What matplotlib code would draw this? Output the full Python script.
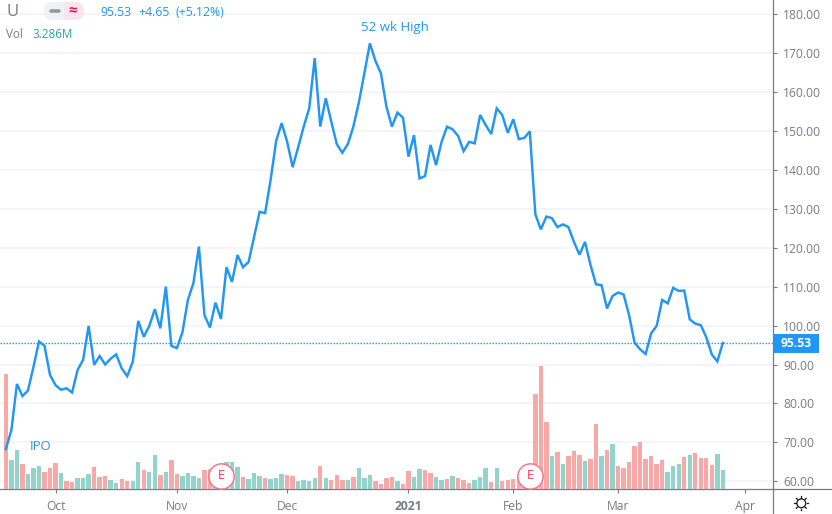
import matplotlib
matplotlib.use("Agg")
import matplotlib.pyplot as plt
from matplotlib.patches import FancyBboxPatch, Rectangle, Circle

plt.rcParams['font.family'] = ['Open Sans', 'DejaVu Sans']

W, H = 832, 514
PLOT_R, PLOT_B = 773.3, 489.3

close_prices = [
    68.3, 73.2, 85.0, 81.9, 83.3, 89.4, 95.9, 94.8, 87.3, 84.7,
    83.5, 83.9, 82.8, 88.6, 91.2, 99.9, 89.9, 92.2, 90.0, 91.5,
    92.6, 89.0, 87.0, 90.7, 101.2, 97.1, 99.9, 104.2, 99.3, 110.0,
    94.8, 94.2, 98.2, 106.6, 110.9, 120.3, 102.7, 99.5, 105.9, 101.7,
    115.0, 111.2, 118.1, 115.0, 116.3, 122.7, 129.2, 128.9, 137.4, 147.4,
    152.0, 147.2, 140.7, 145.8, 151.1, 155.8, 168.7, 151.1, 158.4, 152.4,
    146.6, 144.4, 146.6, 151.1, 157.3, 164.8, 172.5, 168.0, 164.8, 156.2,
    151.1, 154.7, 153.4, 143.4, 148.9, 137.8, 138.4, 146.4, 141.2, 147.2,
    151.1, 150.4, 148.7, 144.8, 147.2, 146.8, 154.1, 151.5, 149.2, 155.8,
    154.1, 149.5, 153.0, 147.9, 148.2, 149.9, 128.6, 124.7, 128.0, 127.6,
    125.3, 126.0, 125.3, 121.5, 118.2, 121.5, 115.6, 110.6, 110.4, 104.4,
    107.6, 108.5, 108.0, 102.7, 95.6, 93.9, 92.7, 98.0, 99.9, 106.6,
    105.7, 109.7, 108.9, 109.0, 101.6, 100.5, 100.1, 97.0, 92.6, 90.8,
    95.53,
]
volumes_m = [
    19.6, 4.94, 6.64, 4.26, 2.56, 3.58, 3.92, 2.9, 3.58, 4.43,
    2.73, 1.36, 1.19, 1.87, 1.87, 2.56, 3.75, 2.04, 2.21, 1.53,
    1.02, 1.7, 1.36, 1.36, 4.6, 3.24, 2.9, 5.79, 2.39, 2.9,
    4.94, 2.56, 2.21, 2.73, 2.21, 1.87, 3.24, 3.41, 2.04, 2.04,
    4.6, 4.6, 3.75, 2.04, 1.7, 2.73, 2.21, 1.87, 1.7, 1.87,
    2.56, 2.39, 2.21, 1.36, 1.53, 1.36, 1.87, 3.92, 1.87, 1.53,
    2.39, 1.53, 1.53, 2.04, 3.58, 1.87, 2.39, 1.36, 0.85, 1.87,
    2.04, 1.36, 0.85, 3.07, 2.04, 3.41, 3.24, 2.73, 2.04, 1.53,
    1.7, 2.21, 1.87, 1.53, 1.02, 1.53, 2.04, 3.58, 1.19, 3.58,
    1.36, 1.53, 1.7, 2.04, 1.36, 0.51, 16.18, 20.95, 11.41, 5.62,
    6.3, 4.26, 5.62, 6.47, 5.79, 4.77, 5.11, 11.07, 5.62, 6.64,
    7.67, 3.92, 3.58, 4.6, 7.33, 8.01, 5.11, 5.62, 4.26, 4.94,
    2.9, 3.92, 4.26, 5.45, 5.79, 6.13, 5.28, 5.28, 4.09, 5.96,
    3.286,
]
volume_side = list(
    "RGGRGGGRRR" "GRRGGGRRRG" "GRRGGRGGRG" "RRGGGGRRGG"
    "GGGRGGGRGG" "GRRGGGGRGR" "RRGRGGGRRR" "RGRRGGRRGG"
    "RGRRRGGGRG" "RRRRRGRRRG" "RGRRRGRRGR" "GRRRRRRRRR"
    "GGGRGRRRRG" "G"
)
earnings_idx = [39, 95]
month_idx = [9, 31, 51, 73, 92, 111, 134]
month_labels = ['Oct', 'Nov', 'Dec', '2021', 'Feb', 'Mar', 'Apr']
price_ticks = [60, 70, 80, 90, 100, 110, 120, 130, 140, 150, 160, 170, 180]

BLUE = '#2196F3'
GREY = '#787B86'
RED_BAR = '#F7A9A7'
GREEN_BAR = '#92D3CA'
GRID = '#F0F3FA'
AXIS = '#787B86'
TICK_TXT = 8.7
XLIM = (-1.07, 139.15)
YLIM = (57.945, 183.63)
POS = [0, 1 - PLOT_B / H, PLOT_R / W, PLOT_B / H]

fig = plt.figure(figsize=(W / 100, H / 100), dpi=100, facecolor='white')

# back layer: grid, spines, tick labels
ax = fig.add_axes(POS, zorder=1)
ax.set_xlim(*XLIM)
ax.set_ylim(*YLIM)
ax.set_facecolor('white')
ax.grid(axis='y', color=GRID, lw=1.1)
ax.set_axisbelow(True)

# middle layer: volume, on its own scale in millions of shares
vol = fig.add_axes(POS, zorder=2)
vol.set_xlim(*XLIM)
vol.set_ylim(0, 83.36)
vol.axis('off')
vol.patch.set_alpha(0)
xs = list(range(len(close_prices)))
vol.bar(xs, volumes_m, width=0.8,
        color=[RED_BAR if s == 'R' else GREEN_BAR for s in volume_side],
        linewidth=0)

# front layer: price
pr = fig.add_axes(POS, zorder=3)
pr.set_xlim(*XLIM)
pr.set_ylim(*YLIM)
pr.axis('off')
pr.patch.set_alpha(0)
pr.axhline(close_prices[-1], color=BLUE, lw=1.0, ls=(0, (1.0, 1.16)), zorder=3)
pr.plot(xs, close_prices, color=BLUE, lw=1.75, zorder=4, solid_joinstyle='miter')

earn_y = 60 + 7.0 / 3.893 - 0.4
for i in earnings_idx:
    pr.plot([i], [earn_y], marker='o', ms=18.2, mfc='white',
            mec='#F4788A', mew=1.1, zorder=5, clip_on=False)
    pr.text(i, earn_y, 'E', color='#F23645', fontsize=9.2,
            ha='center', va='center', zorder=6)

for s in ['top', 'left']:
    ax.spines[s].set_visible(False)
for s in ['right', 'bottom']:
    ax.spines[s].set_color(AXIS)
    ax.spines[s].set_linewidth(0.9)

ax.yaxis.tick_right()
ax.set_yticks(price_ticks)
ax.set_yticklabels([f'{p:.2f}' for p in price_ticks], fontsize=TICK_TXT, color=GREY)
ax.tick_params(axis='y', length=3.2, width=0.8, color=AXIS, pad=4.0)
ax.set_xticks(month_idx)
ax.set_xticklabels(month_labels, fontsize=TICK_TXT, color=GREY)
for lab in ax.get_xticklabels():
    if lab.get_text() == '2021':
        lab.set_fontweight('bold')
ax.tick_params(axis='x', length=3.2, width=0.8, color=AXIS, pad=4.5)

# overlay in pixel coordinates for the terminal chrome
ov = fig.add_axes([0, 0, 1, 1], zorder=10)
ov.set_xlim(0, W)
ov.set_ylim(H, 0)
ov.axis('off')
ov.patch.set_alpha(0)

ov.plot([PLOT_R, PLOT_R], [PLOT_B, H], color=AXIS, lw=0.9)
ov.plot([PLOT_R, W], [PLOT_B, PLOT_B], color=AXIS, lw=0.9)

ov.add_patch(Rectangle((PLOT_R, 334), 45.5, 18.5, color=BLUE, lw=0))
ov.text(PLOT_R + 23, 343.3, f'{close_prices[-1]:.2f}', color='white', fontsize=TICK_TXT,
        fontweight='bold', ha='center', va='center')

ov.text(395, 27, '52 wk High', color=BLUE, fontsize=9.5, ha='center', va='center')
ov.text(30, 446, 'IPO', color=BLUE, fontsize=9.5, ha='left', va='center')

ov.text(6, 12, 'U', color=GREY, fontsize=12, ha='left', va='center')
pink = FancyBboxPatch((53, 11), 22, 0.01, boxstyle='round,pad=9,rounding_size=9',
                      fc='#FCE4EC', ec='none')
ov.add_patch(pink)
left = Rectangle((44, 2), 20, 18, fc='#F0F1F5', ec='none', zorder=2)
ov.add_patch(left)
left.set_clip_path(pink)
ov.plot([51, 59], [11, 11], color='#9598A1', lw=2.6, solid_capstyle='round', zorder=3)
ov.text(73, 11, '≈', color='#D81B60', fontsize=11, fontweight='bold', ha='center',
        va='center', zorder=3)
ov.text(100, 12.5, '95.53', color=BLUE, fontsize=8.8, ha='left', va='center')
ov.text(138.5, 12.5, '+4.65', color=BLUE, fontsize=8.8, ha='left', va='center')
ov.text(175, 12.5, '(+5.12%)', color=BLUE, fontsize=8.8, ha='left', va='center')
ov.text(6, 35, 'Vol', color=GREY, fontsize=8.4, ha='left', va='center')
ov.text(32, 35, '3.286M', color='#26A69A', fontsize=8.4, ha='left', va='center')

# settings icon
ov.add_patch(Circle((801.3, 503.3), 4.4, fc='white', ec='#131722', lw=0.9))
for dx, dy in [(0, -6.6), (0, 6.6), (-6.6, 0), (6.6, 0), (4.7, 4.7), (-4.7, 4.7), (4.7, -4.7), (-4.7, -4.7)]:
    ov.plot([801.3 + dx * 0.85, 801.3 + dx * 1.05], [503.3 + dy * 0.85, 503.3 + dy * 1.05],
            color='#131722', lw=0.9)

fig.savefig('out.png', dpi=100, facecolor='white')
